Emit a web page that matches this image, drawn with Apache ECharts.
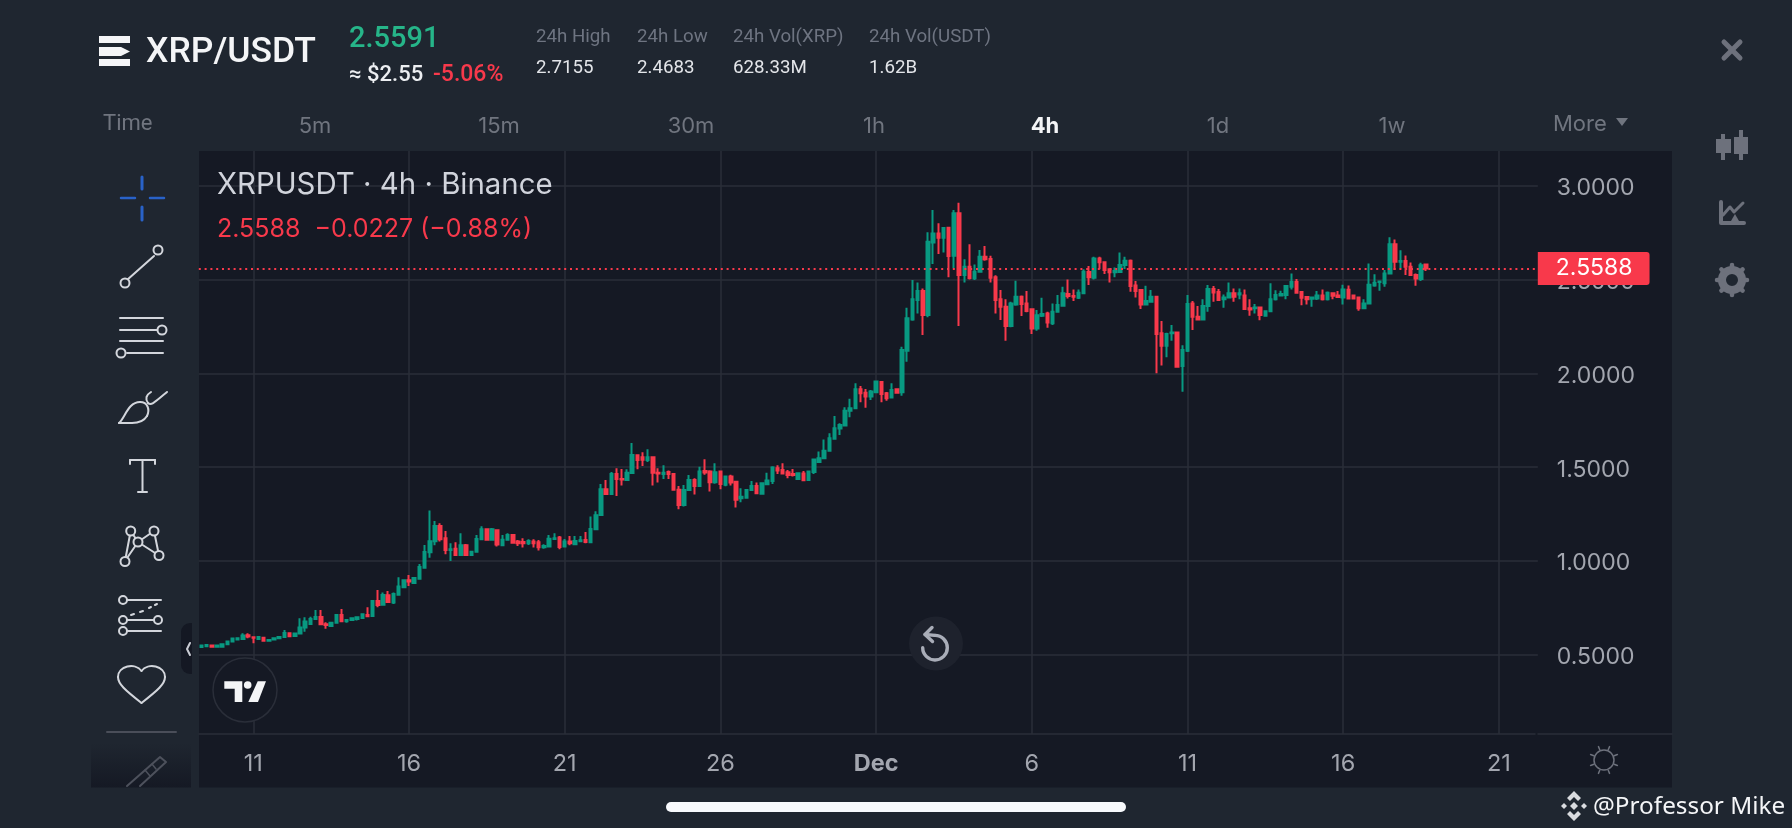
<!DOCTYPE html>
<html>
<head>
<meta charset="utf-8">
<title>XRP/USDT 4h</title>
<script src="https://cdn.jsdelivr.net/npm/echarts@6/dist/echarts.min.js"></script>
<style>
    html, body { margin: 0; padding: 0; background: #1f2630; }
    #main { width: 1792px; height: 828px; }
</style>
</head>
<body>
<div id="main"></div>
<script>
// 4h candles, each row is [open, close, low, high]
const candlesNov = [
    [.543,.551,.541,.553],[.546,.553,.541,.557],[.551,.544,.540,.553],[.544,.551,.538,.552],[.544,.557,.543,.558],
    [.557,.571,.556,.572],[.571,.587,.570,.590],[.582,.589,.578,.591],[.585,.603,.583,.615],[.605,.598,.589,.615],
    [.594,.591,.562,.595],[.585,.596,.580,.601],[.592,.575,.573,.594],[.575,.580,.573,.581],[.582,.589,.580,.594],
    [.589,.596,.587,.598],[.596,.617,.594,.633],[.615,.599,.596,.618],[.601,.614,.598,.616],[.614,.646,.610,.695],
    [.646,.678,.624,.701],[.665,.692,.660,.704],[.692,.702,.688,.740],[.702,.663,.660,.740],[.663,.660,.640,.674],
    [.654,.672,.650,.674],[.672,.713,.668,.718],[.713,.679,.676,.745],[.679,.686,.672,.689],[.686,.695,.683,.698],
    [.692,.701,.683,.705],[.697,.717,.695,.719],[.713,.706,.701,.754],[.708,.788,.706,.793],[.788,.766,.754,.846],
    [.768,.819,.765,.832],[.818,.782,.780,.841],[.779,.825,.772,.832],[.821,.864,.819,.914],[.860,.898,.858,.900],
    [.898,.891,.867,.926],[.883,.910,.880,.915],[.906,.969,.904,.985],[.965,1.048,.960,1.086],[1.047,1.105,1.018,1.269],
    [1.105,1.187,1.084,1.214],[1.187,1.116,1.104,1.201],[1.121,1.059,1.036,1.160],[1.059,1.063,1.001,1.095],[1.066,1.033,1.030,1.100],
    [1.033,1.084,1.030,1.148],[1.084,1.033,1.030,1.091],[1.033,1.050,1.030,1.052],[1.050,1.118,1.048,1.139],[1.116,1.169,1.114,1.185],
    [1.169,1.114,1.112,1.175],[1.114,1.169,1.112,1.176],[1.164,1.088,1.077,1.168],[1.084,1.114,1.082,1.139],[1.114,1.139,1.112,1.148],
    [1.139,1.098,1.096,1.141],[1.104,1.095,1.080,1.112],[1.102,1.095,1.072,1.121],[1.095,1.107,1.086,1.116],[1.104,1.095,1.072,1.116],
    [1.100,1.073,1.056,1.112],[1.073,1.080,1.066,1.089],[1.077,1.119,1.075,1.139],[1.118,1.121,1.112,1.148],[1.125,1.075,1.063,1.134],
    [1.077,1.104,1.073,1.118],[1.104,1.095,1.084,1.134],[1.089,1.107,1.086,1.134],[1.105,1.111,1.102,1.134],[1.112,1.102,1.095,1.155],
    [1.100,1.171,1.098,1.238],[1.169,1.244,1.167,1.265],[1.246,1.382,1.244,1.411],[1.382,1.357,1.355,1.432],[1.357,1.464,1.355,1.474],
    [1.464,1.437,1.347,1.494],[1.437,1.434,1.402,1.490],[1.432,1.471,1.430,1.489],[1.469,1.565,1.467,1.629],[1.563,1.538,1.489,1.565],
    [1.553,1.540,1.506,1.579],[1.538,1.553,1.528,1.595],[1.553,1.471,1.402,1.556],[1.471,1.466,1.419,1.494],[1.464,1.471,1.437,1.510],
    [1.474,1.464,1.437,1.482],[1.464,1.380,1.378,1.466],[1.380,1.299,1.276,1.400],[1.299,1.379,1.290,1.405],[1.379,1.432,1.377,1.458],
    [1.432,1.400,1.354,1.441],[1.400,1.477,1.395,1.503],[1.480,1.472,1.460,1.542],[1.477,1.420,1.370,1.484],[1.420,1.473,1.412,1.521],
    [1.477,1.411,1.382,1.480],[1.406,1.450,1.398,1.455],[1.450,1.418,1.402,1.460],[1.423,1.326,1.285,1.425],[1.335,1.343,1.313,1.388],
    [1.337,1.379,1.332,1.382],[1.379,1.400,1.375,1.427],[1.400,1.361,1.356,1.418],[1.359,1.414,1.356,1.420],[1.409,1.429,1.405,1.471],
    [1.427,1.498,1.411,1.505],[1.494,1.482,1.464,1.510],[1.485,1.466,1.462,1.521],[1.473,1.459,1.441,1.485],[1.464,1.459,1.450,1.491],
    [1.437,1.468,1.434,1.470],[1.466,1.430,1.428,1.480],[1.432,1.477,1.430,1.480],[1.475,1.541,1.464,1.545],[1.528,1.548,1.525,1.583],
    [1.548,1.587,1.545,1.647],[1.587,1.654,1.585,1.681],[1.651,1.707,1.648,1.773],[1.706,1.725,1.672,1.734],[1.722,1.801,1.720,1.819],
    [1.801,1.814,1.766,1.865],[1.814,1.915,1.812,1.947],[1.915,1.894,1.846,1.933],[1.897,1.876,1.817,1.917],[1.876,1.903,1.858,1.911]
];
const candlesDec = [
    [1.899,1.956,1.894,1.961],[1.954,1.890,1.846,1.958],[1.894,1.867,1.854,1.900],[1.871,1.911,1.869,1.947],[1.915,1.897,1.894,1.920],
    [1.899,2.124,1.881,2.142],[2.120,2.293,2.062,2.349],[2.287,2.394,2.280,2.497],[2.390,2.438,2.319,2.483],[2.438,2.310,2.204,2.452],
    [2.310,2.701,2.298,2.751],[2.697,2.745,2.582,2.870],[2.745,2.722,2.635,2.799],[2.722,2.774,2.644,2.778],[2.775,2.625,2.511,2.781],
    [2.626,2.852,2.559,2.870],[2.852,2.523,2.252,2.909],[2.523,2.568,2.484,2.607],[2.568,2.507,2.500,2.688],[2.506,2.541,2.497,2.580],
    [2.541,2.621,2.538,2.657],[2.621,2.607,2.600,2.678],[2.609,2.509,2.483,2.626],[2.511,2.390,2.319,2.522],[2.394,2.355,2.284,2.444],
    [2.355,2.252,2.174,2.394],[2.252,2.372,2.245,2.381],[2.367,2.408,2.360,2.493],[2.408,2.369,2.305,2.415],[2.372,2.332,2.325,2.438],
    [2.341,2.239,2.209,2.346],[2.239,2.309,2.227,2.337],[2.307,2.316,2.300,2.403],[2.319,2.270,2.243,2.328],[2.266,2.328,2.257,2.372],
    [2.328,2.364,2.325,2.417],[2.360,2.426,2.357,2.461],[2.422,2.412,2.399,2.500],[2.412,2.408,2.385,2.447],[2.403,2.429,2.396,2.447],
    [2.426,2.541,2.424,2.554],[2.539,2.511,2.470,2.571],[2.509,2.612,2.500,2.621],[2.612,2.591,2.554,2.621],[2.591,2.550,2.529,2.594],
    [2.554,2.538,2.484,2.559],[2.538,2.545,2.511,2.564],[2.539,2.577,2.536,2.644],[2.577,2.600,2.555,2.621],[2.600,2.465,2.435,2.606],
    [2.468,2.438,2.404,2.491],[2.444,2.367,2.342,2.448],[2.367,2.385,2.362,2.467],[2.381,2.408,2.378,2.444],[2.408,2.209,2.000,2.412],
    [2.213,2.147,2.041,2.278],[2.147,2.209,2.085,2.216],[2.213,2.218,2.174,2.257],[2.218,2.035,2.030,2.222],[2.039,2.124,1.902,2.150],
    [2.120,2.369,2.114,2.417],[2.372,2.301,2.230,2.385],[2.301,2.287,2.284,2.358],[2.287,2.358,2.284,2.395],[2.358,2.449,2.328,2.470],
    [2.449,2.431,2.381,2.465],[2.433,2.390,2.388,2.449],[2.395,2.404,2.349,2.420],[2.404,2.426,2.400,2.484],[2.426,2.408,2.381,2.452],
    [2.420,2.426,2.395,2.452],[2.415,2.342,2.338,2.447],[2.346,2.340,2.307,2.394],[2.346,2.351,2.319,2.369],[2.351,2.310,2.283,2.355],
    [2.307,2.330,2.301,2.334],[2.330,2.395,2.325,2.479],[2.394,2.417,2.388,2.443],[2.415,2.422,2.412,2.440],[2.417,2.465,2.395,2.470],
    [2.461,2.486,2.447,2.532],[2.486,2.429,2.425,2.502],[2.433,2.402,2.363,2.436],[2.406,2.394,2.367,2.411],[2.397,2.404,2.354,2.409],
    [2.399,2.415,2.390,2.438],[2.415,2.394,2.388,2.447],[2.394,2.429,2.388,2.436],[2.427,2.413,2.394,2.431],[2.415,2.406,2.404,2.438],
    [2.404,2.447,2.367,2.472],[2.445,2.399,2.395,2.468],[2.415,2.399,2.395,2.420],[2.404,2.346,2.333,2.409],[2.346,2.372,2.342,2.395],
    [2.372,2.472,2.370,2.585],[2.468,2.482,2.461,2.527],[2.486,2.489,2.440,2.492],[2.479,2.532,2.461,2.550],[2.532,2.688,2.530,2.724],
    [2.688,2.594,2.550,2.713],[2.594,2.598,2.560,2.656],[2.598,2.567,2.523,2.628],[2.567,2.523,2.520,2.590],[2.523,2.505,2.466,2.532],
    [2.502,2.576,2.491,2.589],[2.580,2.5588,2.545,2.585]
];
const lastPrice = 2.5588;
const priceTicks = [0.5, 1, 1.5, 2, 2.5, 3];
// slot index of each date label, one label every 30 candles
const dateTickSlots = [10, 40, 70, 100, 130, 160, 190, 220, 250];
const dateTickLabels = ['11', '16', '21', '26', 'Dec', '6', '11', '16', '21'];
const slotCount = 258;
const intervals = ['5m', '15m', '30m', '1h', '4h', '1d', '1w'];

const GREEN = '#089981', RED = '#f8394b', GRID = '#2a2e39', PANEL = '#151924', PAGE = '#1f2630', AXIS_TEXT = '#a3a6af';
const ICON = '#d3d6dc', SIDE = '#6d717c';

let categories = [];
for (let i = 0; i < slotCount; i++) {
    categories.push('c' + i);
}
let candles = candlesNov.concat(candlesDec);

// little helpers for the app chrome around the chart
function txt(x, y, text, size, fill, align, weight, family) {
    return {
        type: 'text', silent: true, z: 20,
        style: {
            x: x, y: y, text: text, fill: fill, textAlign: align || 'left', textVerticalAlign: 'middle',
            font: (weight || 400) + ' ' + size + 'px ' + (family || 'Roboto')
        }
    };
}
function ln(x1, y1, x2, y2, color, w) {
    return {
        type: 'line', silent: true, z: 20,
        shape: { x1: x1, y1: y1, x2: x2, y2: y2 },
        style: { stroke: color || ICON, lineWidth: w || 2, lineCap: 'round' }
    };
}
function dot(cx, cy, r, color, w) {
    return {
        type: 'circle', silent: true, z: 20,
        shape: { cx: cx, cy: cy, r: r },
        style: { fill: PAGE, stroke: color || ICON, lineWidth: w || 2 }
    };
}
function box(x, y, w, h, fill, r, z) {
    return {
        type: 'rect', silent: true, z: z === undefined ? 20 : z,
        shape: { x: x, y: y, width: w, height: h, r: r || 0 },
        style: { fill: fill }
    };
}
function poly(points, color, w) {
    return {
        type: 'polyline', silent: true, z: 20,
        shape: { points: points },
        style: { stroke: color || ICON, lineWidth: w || 2, fill: null, lineJoin: 'round', lineCap: 'round' }
    };
}
function gon(points, fill) {
    return { type: 'polygon', silent: true, z: 20, shape: { points: points }, style: { fill: fill } };
}
function curve(x1, y1, cx1, cy1, cx2, cy2, x2, y2, color, w) {
    return {
        type: 'bezierCurve', silent: true, z: 20,
        shape: { x1: x1, y1: y1, cpx1: cx1, cpy1: cy1, cpx2: cx2, cpy2: cy2, x2: x2, y2: y2 },
        style: { stroke: color || ICON, lineWidth: w || 2, fill: null, lineCap: 'round' }
    };
}
function arc(cx, cy, r, a0, a1, color, w) {
    return {
        type: 'arc', silent: true, z: 20,
        shape: { cx: cx, cy: cy, r: r, startAngle: a0, endAngle: a1, clockwise: true },
        style: { stroke: color, lineWidth: w, fill: null, lineCap: 'round' }
    };
}

function buildChrome() {
    let els = [];
    // panel behind the chart
    els.push(box(199, 151, 1473, 636.5, PANEL, 0, -10));
    els.push(ln(199, 734, 1535, 734, GRID, 1.5), ln(1538, 734, 1672, 734, GRID, 1.5));

    // header
    els.push(box(99, 36, 31, 7, '#f4f5f7'), box(99, 59, 31, 7, '#f4f5f7'),
        gon([[99, 47], [121, 47], [130, 51.5], [121, 56], [99, 56]], '#f4f5f7'));
    els.push(txt(146, 53, 'XRP/USDT', 35.5, '#f4f5f7', 'left', 500));
    els.push(txt(349, 39.5, '2.5591', 29, '#26b589', 'left', 500));
    els.push(txt(349, 75, '≈ $2.55', 22, '#eceef1', 'left', 500));
    els.push(txt(433, 75, '-5.06%', 23, RED, 'left', 500));
    const heads = [[536, '24h High', '2.7155'], [637, '24h Low', '2.4683'], [733, '24h Vol(XRP)', '628.33M'], [869, '24h Vol(USDT)', '1.62B']];
    heads.forEach(function (h) {
        els.push(txt(h[0], 37, h[1], 18.7, '#6e7481'));
        els.push(txt(h[0], 68, h[2], 18.7, '#e3e5e9'));
    });

    // interval row
    els.push(txt(103, 124, 'Time', 22, '#70757f'));
    const rowX = [315, 499, 691, 874, 1045, 1218, 1392];
    intervals.forEach(function (name, i) {
        if (name === '4h') {
            els.push(txt(rowX[i], 126, name, 22, '#f4f5f7', 'center', 700, 'Inter'));
        } else {
            els.push(txt(rowX[i], 126, name, 22, '#70757f', 'center', 400, 'Inter'));
        }
    });
    els.push(txt(1553, 124, 'More', 22, '#70757f', 'left', 400, 'Inter'));
    els.push(gon([[1616, 118], [1628, 118], [1622, 126]], '#70757f'));

    // legend on the chart
    els.push(txt(217, 185.5, 'XRPUSDT · 4h · Binance', 29.4, '#d1d4dc', 'left', 400, 'Inter'));
    els.push(txt(217, 229, '2.5588  −0.0227 (−0.88%)', 25, RED, 'left', 400, 'Inter'));

    // left tool column
    const BLUE = '#2962c8';
    els.push(ln(142, 177, 142, 189, BLUE, 3), ln(142, 207, 142, 220, BLUE, 3));
    els.push(ln(121, 198, 135, 198, BLUE, 2.5), ln(150, 198, 164, 198, BLUE, 2.5));
    // trend line
    els.push(ln(127, 280, 154, 256), dot(125, 283, 4.5), dot(158, 250, 4.5));
    // parallel lines
    els.push(ln(120, 318, 163, 318), ln(120, 330, 157, 330), dot(162, 330, 4.5), ln(120, 341, 163, 341), ln(127, 353, 163, 353), dot(121, 353, 4.5));
    // brush
    els.push(curve(119, 423, 125, 418, 128, 402, 140, 402), curve(140, 402, 148, 402, 150, 410, 147, 416),
        curve(147, 416, 144, 421, 138, 423, 132, 423), ln(119, 423, 132, 423));
    els.push(curve(151, 392, 146, 395, 145, 399, 148, 403), curve(148, 403, 151, 406, 154, 403, 167, 392));
    // T
    els.push(ln(130, 460, 155, 460), ln(142.5, 460, 142.5, 492), ln(138, 492, 147, 492), ln(130, 460, 130, 464), ln(155, 460, 155, 464));
    // pattern
    els.push(ln(130.7, 531, 125, 561), ln(130.7, 531, 138, 542), ln(125, 561, 138, 542), ln(138, 542, 154, 531), ln(138, 542, 159, 555.5), ln(154, 531, 159, 555.5));
    els.push(dot(130.7, 531, 4.5), dot(154, 531, 4.5), dot(138, 542, 4.5), dot(125, 561.5, 4.5), dot(159, 555.5, 4.5));
    // fib levels
    els.push(ln(127, 600, 161, 600), dot(123, 600, 4), ln(127, 620, 155, 620), dot(123, 620, 4), dot(158, 620, 4), ln(127, 631, 161, 631), dot(123, 631, 4));
    els.push(ln(131, 615, 134, 614), ln(140, 612, 143, 611), ln(149, 608, 151, 607), ln(155, 605, 157, 604));
    // heart
    els.push(curve(141.5, 703, 125, 690, 118, 684, 118, 677), curve(118, 677, 118, 666, 135, 662, 141.5, 671),
        curve(141.5, 671, 148, 662, 165, 666, 165, 677), curve(165, 677, 165, 684, 158, 690, 141.5, 703));
    els.push(ln(107, 732, 176, 732, '#4a4e59', 2));
    // faded ruler
    els.push({
        type: 'rect', silent: true, z: 19, shape: { x: 91, y: 743, width: 100, height: 44.5 },
        style: {
            fill: {
                type: 'linear', x: 0, y: 0, x2: 0, y2: 1,
                colorStops: [{ offset: 0, color: PAGE }, { offset: 1, color: PANEL }]
            }
        }
    });
    els.push(poly([[127, 786], [160, 757], [166, 762], [140, 786]], '#4d515c', 2));
    els.push(ln(145, 770, 150, 776, '#4d515c', 1.5), ln(152, 764, 156, 769, '#4d515c', 1.5));
    // collapse handle
    els.push(box(181, 623, 11, 51, '#141823', [9, 0, 0, 9]));
    els.push(poly([[190, 643], [187, 649], [190, 655]], '#c9ccd3', 2));

    // right tool column
    els.push(ln(1724, 42, 1740, 58, SIDE, 5), ln(1740, 42, 1724, 58, SIDE, 5));
    els.push(box(1716, 139, 15, 14, SIDE), box(1721, 134, 4, 26, SIDE));
    els.push(box(1734, 137, 14, 17, SIDE), box(1739, 130, 4, 30, SIDE));
    els.push(poly([[1721, 202], [1721, 223], [1744, 223]], SIDE, 4), poly([[1723, 215], [1730, 207], [1734, 212], [1743, 203]], SIDE, 3));
    els.push(gon([[1731, 221], [1735, 214], [1739, 221]], SIDE));
    // gear
    els.push(dot(1732, 280, 10, SIDE, 8));
    for (let a = 0; a < 8; a++) {
        let rad = a * Math.PI / 4;
        els.push(ln(1732 + Math.cos(rad) * 12, 280 + Math.sin(rad) * 12, 1732 + Math.cos(rad) * 15, 280 + Math.sin(rad) * 15, SIDE, 4.5));
    }

    // logo in the chart corner
    els.push({ type: 'circle', silent: true, z: 20, shape: { cx: 245, cy: 690, r: 32 }, style: { fill: PANEL, stroke: GRID, lineWidth: 1.5 } });
    els.push(gon([[224.3, 681.3], [242.3, 681.3], [242.3, 702], [234.7, 702], [234.7, 688.7], [224.3, 688.7]], '#f4f5f7'));
    els.push({ type: 'circle', silent: true, z: 20, shape: { cx: 247.7, cy: 685, r: 3.8 }, style: { fill: '#f4f5f7' } });
    els.push(gon([[257.7, 681.3], [266, 681.3], [258, 702], [248.3, 702]], '#f4f5f7'));

    // reset button
    els.push({ type: 'circle', silent: true, z: 20, shape: { cx: 936, cy: 643.5, r: 27 }, style: { fill: '#1e222d' } });
    els.push(arc(935, 647.7, 12.3, -Math.PI * 0.5, Math.PI, '#a9adb8', 3.4));
    els.push(poly([[932, 627.5], [925, 634.5], [932.5, 641.5]], '#a9adb8', 3.4), ln(925, 634.5, 935, 635.4, '#a9adb8', 3.4));

    // sun icon on the axis corner
    els.push({ type: 'circle', silent: true, z: 20, shape: { cx: 1604, cy: 760, r: 10 }, style: { fill: null, stroke: SIDE, lineWidth: 1.5 } });
    for (let a = 0; a < 8; a++) {
        let rad = a * Math.PI / 4 + Math.PI / 8;
        els.push(ln(1604 + Math.cos(rad) * 11, 760 + Math.sin(rad) * 11, 1604 + Math.cos(rad) * 14.5, 760 + Math.sin(rad) * 14.5, SIDE, 1.5));
    }

    // bottom strip
    els.push(box(666, 802, 460, 10, '#f8fafd', 5));
    const mark = '#d9dbdf';
    els.push(gon([[1574, 791], [1581, 798], [1578, 801], [1574, 797], [1570, 801], [1567, 798]], mark));
    els.push(gon([[1574, 802], [1578, 806], [1574, 810], [1570, 806]], mark));
    els.push(gon([[1564, 803], [1567, 806], [1564, 809], [1561, 806]], mark));
    els.push(gon([[1584, 803], [1587, 806], [1584, 809], [1581, 806]], mark));
    els.push(gon([[1567, 814], [1570, 811], [1574, 815], [1578, 811], [1581, 814], [1574, 821]], mark));
    els.push(txt(1593, 807, '@Professor Mike', 24.3, '#f4f5f7', 'left', 400, 'Noto Sans'));
    return els;
}

let chart = echarts.init(document.getElementById('main'));
chart.setOption({
    animation: false,
    backgroundColor: 'transparent',
    grid: { left: 198.8, top: 151, width: 1339, height: 583, containLabel: false },
    xAxis: {
        type: 'category',
        data: categories,
        boundaryGap: true,
        axisLine: { show: false },
        axisTick: { show: false },
        axisLabel: {
            interval: function (index) { return dateTickSlots.indexOf(index) >= 0; },
            margin: 18,
            fontFamily: 'Inter',
            fontSize: 23.5,
            color: AXIS_TEXT,
            hideOverlap: false,
            formatter: function (value) {
                let label = dateTickLabels[dateTickSlots.indexOf(categories.indexOf(value))];
                return label === 'Dec' ? '{b|Dec}' : label;
            },
            rich: { b: { fontFamily: 'Inter', fontSize: 23.5, fontWeight: 700, color: AXIS_TEXT } }
        },
        splitLine: {
            show: true,
            alignWithLabel: true,
            interval: function (index) { return dateTickSlots.indexOf(index) >= 0; },
            lineStyle: { color: GRID, width: 1.5 }
        }
    },
    yAxis: {
        type: 'value',
        position: 'right',
        min: 0.079,
        max: 3.184,
        axisLine: { show: false },
        axisTick: { show: false, customValues: priceTicks },
        axisLabel: {
            customValues: priceTicks,
            margin: 19,
            fontFamily: 'Inter',
            fontSize: 23,
            color: AXIS_TEXT,
            formatter: function (v) { return '{p|' + v.toFixed(4) + '}'; },
            rich: { p: { fontFamily: 'Inter', fontSize: 23, color: AXIS_TEXT, padding: [5, 0, 0, 0] } }
        },
        splitLine: { show: true, lineStyle: { color: GRID, width: 1.5 } }
    },
    series: [{
        type: 'candlestick',
        data: candles,
        barWidth: 3,
        large: false,
        clip: true,
        itemStyle: {
            color: GREEN,
            color0: RED,
            borderColor: GREEN,
            borderColor0: RED,
            borderWidth: 2
        },
        markLine: {
            silent: true,
            symbol: 'none',
            precision: 4,
            z: 10,
            data: [{ yAxis: lastPrice }],
            lineStyle: { color: RED, type: [2, 3.8], width: 2 },
            label: {
                show: true,
                position: 'end',
                distance: 0,
                formatter: lastPrice.toFixed(4),
                color: '#ffffff',
                fontFamily: 'Inter',
                fontSize: 23,
                backgroundColor: RED,
                padding: [8, 17, 2, 18],
                borderRadius: [0, 3, 3, 0]
            }
        }
    }],
    graphic: { elements: buildChrome() }
});
</script>
</body>
</html>
